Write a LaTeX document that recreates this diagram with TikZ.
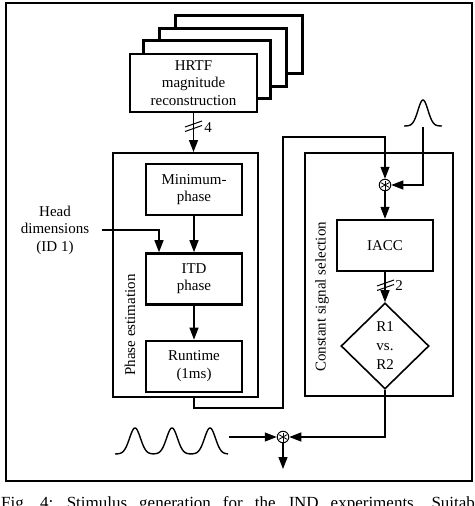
\documentclass[tikz,border=0pt]{standalone}
\usepackage{fontspec}
\setmainfont{Liberation Serif}
\usetikzlibrary{positioning, shapes.geometric, arrows.meta}

\begin{document}
\begin{tikzpicture}[
    x=1pt, y=-1pt, font=\fontsize{15}{17.5}\selectfont,
    node distance=36pt,
    stack/.style={rectangle, draw, fill=white, line width=2.4pt, minimum width=127pt,
                  minimum height=58pt, align=center, inner sep=0pt},
    block/.style={rectangle, draw, line width=2.4pt, minimum width=96pt,
                  minimum height=51pt, align=center, inner sep=0pt},
    group/.style={rectangle, draw, line width=2pt, inner sep=0pt},
    decide/.style={diamond, draw, line width=1.6pt, minimum width=88pt, minimum height=86pt,
                   inner sep=0pt, align=center, font=\fontsize{15}{19}\selectfont},
    mult/.style={circle, draw, line width=1pt, minimum size=11.5pt, inner sep=0pt, fill=white,
                 path picture={\foreach \a in {90,30,150}
                   \draw[line width=0.8pt] (path picture bounding box.center) ++(\a:4.5pt) -- ++(\a+180:9pt);}},
    arrow/.style={line width=1.2pt, -{Triangle[length=12pt, width=9pt]}},
    bus/.style={line width=1pt}
]
    \useasboundingbox (0,0) rectangle (474,506);
    \draw[line width=1.6pt] (6,3) rectangle (472,481);

    % magnitude stack
    \node [stack] (hrtf4) at (239,44.5) {};
    \node [stack] (hrtf3) at (223,57.5) {};
    \node [stack] (hrtf2) at (207,69.5) {};
    \node [stack] (hrtf1) at (193.5,83) {HRTF\\magnitude\\reconstruction};

    % phase estimation
    \node [group, minimum width=145pt, minimum height=244pt] (phase) at (185.5,275) {};
    \node [rotate=90] (phaselbl) at (130,325) {Phase estimation};
    \node [block] (minph) at (194,189.5) {Minimum-\\phase};
    \node [block, below=of minph] (itd) {ITD\\phase};
    \node [block, below=34pt of itd] (runtime) {Runtime\\(1ms)};
    \node [align=center] (head) at (55,230) {Head\\dimensions\\(ID 1)};

    % constant signal selection
    \node [group, minimum width=148pt, minimum height=243pt] (select) at (379,274.5) {};
    \node [rotate=90] (selectlbl) at (322,297) {Constant signal selection};
    \node [mult] (mix) at (385,185) {};
    \node [block] (iacc) at (385,245.5) {IACC};
    \node [decide] (cmp) at (385,346) {R1\\vs.\\R2};
    \node [mult] (out) at (283,437) {};

    % signals
    \coordinate (pulse) at (423,127);
    \draw [line width=1.4pt] plot[domain=-19:19, samples=60, smooth]
        ({423+\x}, {126-26*exp(-(\x*\x)/50)});
    \coordinate (wave) at (229,437);
    \draw [line width=1.4pt] plot[domain=115:228, samples=160, smooth]
        (\x, {454-26*(exp(-((\x-135)*(\x-135))/60)+exp(-((\x-172)*(\x-172))/60)+exp(-((\x-210)*(\x-210))/60))});
    \coordinate (stim) at (283,469);

    % connectors
    \draw [arrow] (hrtf1.south) -- (hrtf1.south |- phase.north);
    \draw [bus] (185,127) -- ++(17,-6) (185,131.5) -- ++(17,-6);
    \node (n4) at (208,128) {4};
    \draw [arrow] (minph) -- (itd);
    \draw [arrow] (itd) -- (runtime);
    \draw [arrow] ([xshift=9pt]head.east) -| ([xshift=-35pt]itd.north);
    \draw [arrow] (runtime.south |- phase.south) |- (283,408) |- (385,137) -- (mix.north);
    \draw [arrow] (pulse) |- (mix.east);
    \draw [arrow] (mix) -- (iacc);
    \draw [arrow] (iacc) -- (cmp);
    \draw [bus] (377,286) -- ++(17,-6) (377,290.5) -- ++(17,-6);
    \node (n2) at (399,286) {2};
    \draw [arrow] (cmp.south) |- (out.east);
    \draw [arrow] (wave) -- (out.west);
    \draw [arrow] (out) -- (stim);

    \node [anchor=base west, inner sep=0pt, font=\fontsize{17}{20}\selectfont] (caption) at (1,508)
        {\spaceskip=12pt Fig.~4: Stimulus generation for the JND experiments. Suitable};
\end{tikzpicture}
\end{document}
